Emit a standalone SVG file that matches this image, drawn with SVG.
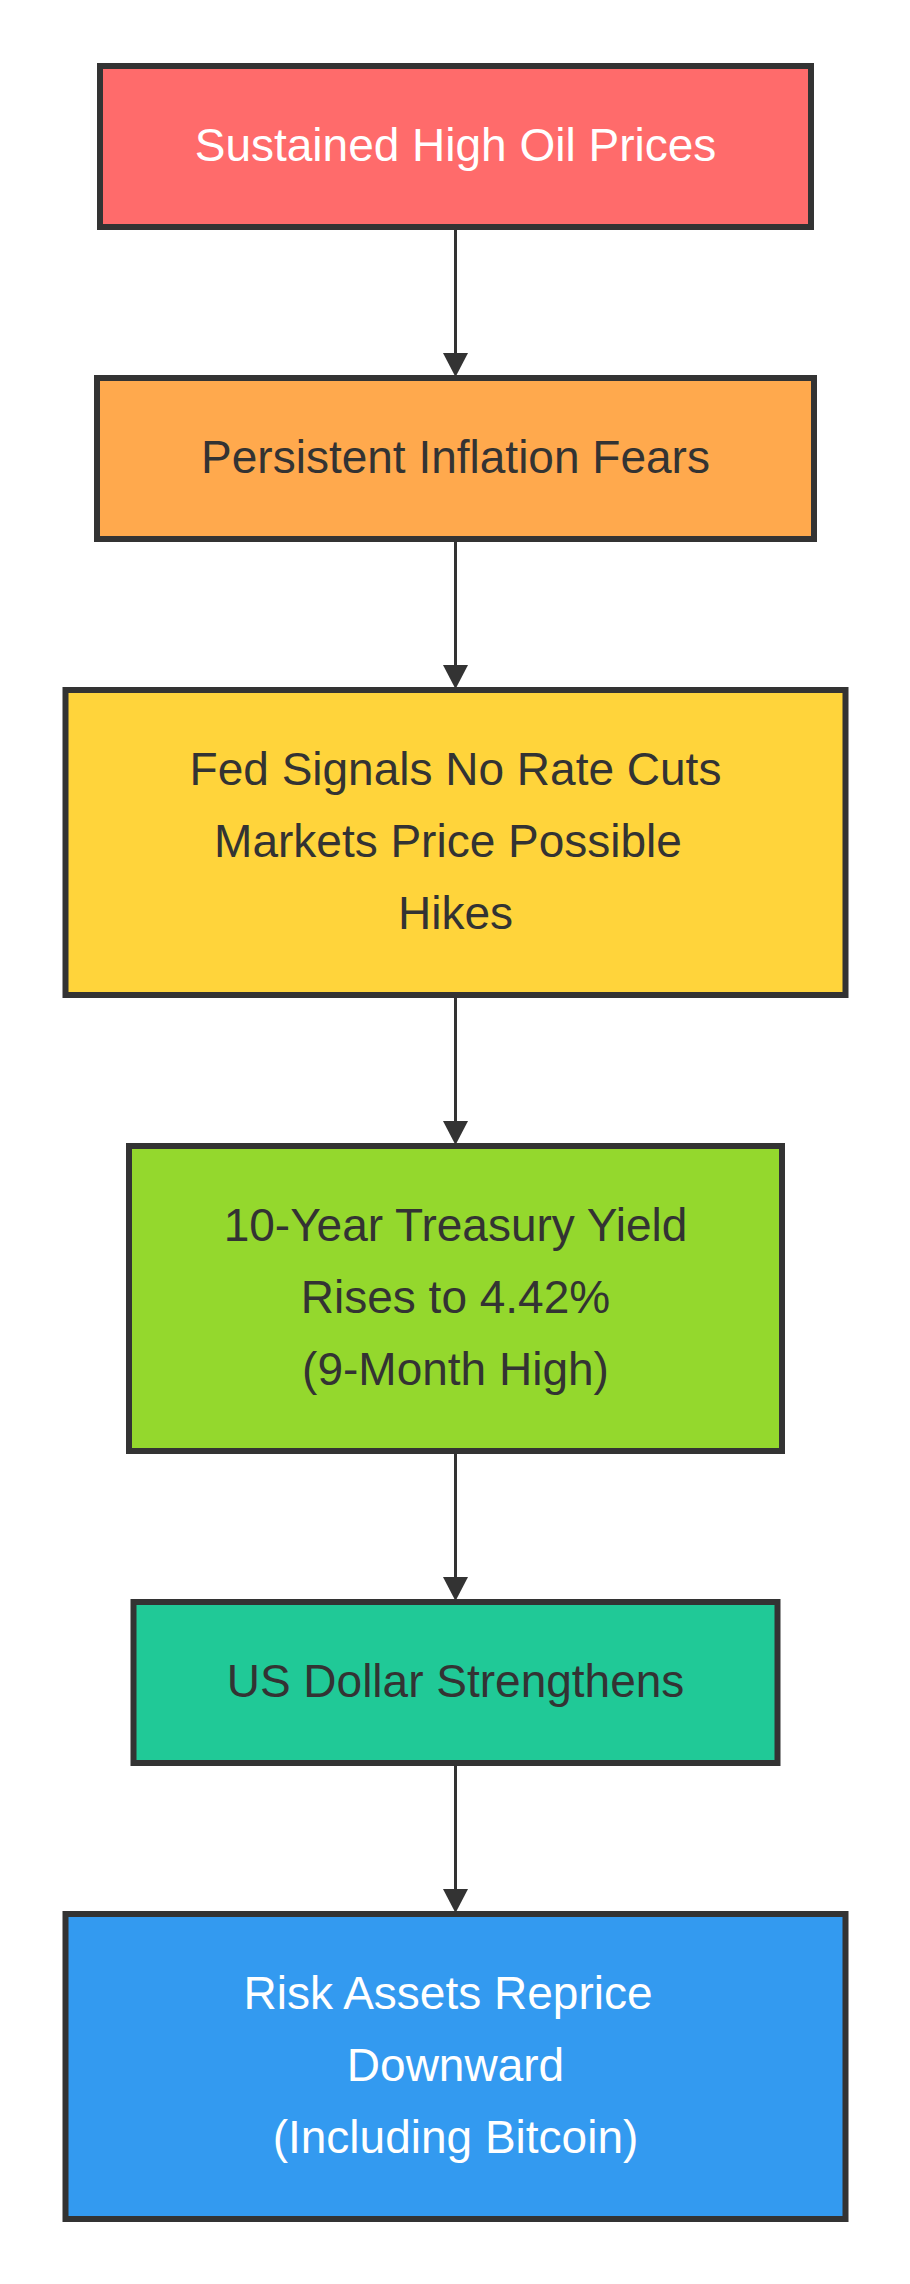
<svg xmlns="http://www.w3.org/2000/svg" width="910" height="2284" viewBox="0 0 910 2284">
  <style>
    .node rect { stroke: #333333; stroke-width: 6; }
    .label { font-family: "Liberation Sans", Arial, sans-serif; font-size: 46px; text-anchor: middle; fill: #333333; }
    .light { fill: #ffffff; }
    .edge { stroke: #333333; stroke-width: 3; fill: none; }
  </style>
  <defs>
    <marker id="arrow" viewBox="0 0 24 25" markerWidth="24" markerHeight="25" markerUnits="userSpaceOnUse" refX="10" refY="12.5" orient="auto">
      <path d="M0,0 L24,12.5 L0,25 Z" fill="#333333"/>
    </marker>
  </defs>
  <rect x="0" y="0" width="910" height="2284" fill="#ffffff"/>

  <g id="connectors">
    <path class="edge" d="M455.5,230 L455.5,363" marker-end="url(#arrow)"/>
    <path class="edge" d="M455.5,542 L455.5,675" marker-end="url(#arrow)"/>
    <path class="edge" d="M455.5,998 L455.5,1131" marker-end="url(#arrow)"/>
    <path class="edge" d="M455.5,1454 L455.5,1587" marker-end="url(#arrow)"/>
    <path class="edge" d="M455.5,1766 L455.5,1899" marker-end="url(#arrow)"/>
  </g>

  <g id="oil" class="node">
    <rect x="100" y="66" width="711" height="161" fill="#ff6b6b"/>
    <text class="label light" x="455.5" y="160.5">Sustained High Oil Prices</text>
  </g>

  <g id="inflation" class="node">
    <rect x="97" y="378" width="717" height="161" fill="#ffa94d"/>
    <text class="label" x="455.5" y="472.5">Persistent Inflation Fears</text>
  </g>

  <g id="fed" class="node">
    <rect x="65.5" y="690" width="780" height="305" fill="#ffd43b"/>
    <text class="label" x="455.5" y="785">Fed Signals No Rate Cuts</text>
    <text class="label" x="448" y="857">Markets Price Possible</text>
    <text class="label" x="455.5" y="929">Hikes</text>
  </g>

  <g id="yield" class="node">
    <rect x="129" y="1146" width="653" height="305" fill="#94d82d"/>
    <text class="label" x="455.5" y="1240.5">10-Year Treasury Yield</text>
    <text class="label" x="455.5" y="1312.5">Rises to 4.42%</text>
    <text class="label" x="455.5" y="1384.5">(9-Month High)</text>
  </g>

  <g id="dollar" class="node">
    <rect x="133.5" y="1602" width="644" height="161" fill="#20c997"/>
    <text class="label" x="455.5" y="1696.5">US Dollar Strengthens</text>
  </g>

  <g id="risk" class="node">
    <rect x="65.5" y="1914" width="780" height="305" fill="#339af0"/>
    <text class="label light" x="448" y="2009">Risk Assets Reprice</text>
    <text class="label light" x="455.5" y="2080.5">Downward</text>
    <text class="label light" x="455.5" y="2152.5">(Including Bitcoin)</text>
  </g>
</svg>
